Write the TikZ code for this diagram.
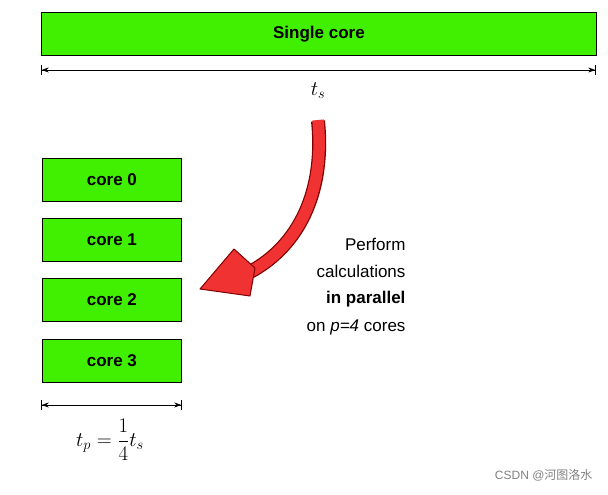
\documentclass[tikz,border=0pt]{standalone}
\usepackage{fontspec}
\setmainfont{Liberation Sans}
\newfontfamily\cjk{Noto Sans CJK SC}
\usetikzlibrary{arrows.meta}
\definecolor{cgreen}{RGB}{64,240,0}
\definecolor{ared}{RGB}{240,50,50}
\begin{document}
\begin{tikzpicture}[x=1pt,y=-1pt,
 corebox/.style={draw=black,fill=cgreen,line width=0.8pt,minimum height=43pt,anchor=north west,inner sep=0pt,font=\fontsize{17}{20}\selectfont\bfseries},
 dim/.style={{Bar[width=10pt]Stealth[length=7pt,width=5pt]}-{Stealth[length=7pt,width=5pt]Bar[width=10pt]},line width=0.7pt},
 lbl/.style={font=\fontsize{17}{20}\selectfont}]
\useasboundingbox (0,0) rectangle (608,495);
\node[corebox,minimum width=555pt] (s) at (41,12) {Single core};
\coordinate (sa) at (41,70); \coordinate (sb) at (596,70);
\draw[dim] (sa) -- (sb);
\node[font=\fontsize{22}{24}\selectfont] (ts) at (318,91) {$t_s$};
\foreach \i/\y in {0/158,1/218,2/278,3/339}
  \node[corebox,minimum width=139pt] (c\i) at (42,\y) {core \i};
\coordinate (pa) at (41,405); \coordinate (pb) at (182,405);
\draw[dim] (pa) -- (pb);
\node[font=\fontsize{22}{24}\selectfont] (tp) at (110,440) {$t_p=\displaystyle\frac{1}{4}t_s$};
% arrow
\coordinate (a0) at (318,121);
\coordinate (a1) at (250,272);
\draw[line width=14pt,red!50!black] (a0) .. controls (325,190) and (300,245) .. (a1);
\draw[line width=11.5pt,ared] ([yshift=1pt]a0) .. controls (325,190) and (300,245) .. (a1);
\coordinate (h) at (200,289);
\draw[fill=ared,draw=red!50!black,line width=1pt,line join=round] (h) -- (234,249) -- (255,268) -- (250,296) -- cycle;
\node[lbl,anchor=east] (t1) at (409,244) {Perform};
\node[lbl,anchor=east] (t2) at (409,271) {calculations};
\node[lbl,anchor=east] (t3) at (409,299) {\bfseries in parallel};
\node[lbl,anchor=east] (t4) at (409,327) {on \textit{p=4} cores};
\node[anchor=east,text=gray,font=\fontsize{12}{14}\selectfont] (w) at (596,475) {CSDN @{\cjk 河图洛水}};
\end{tikzpicture}
\end{document}
